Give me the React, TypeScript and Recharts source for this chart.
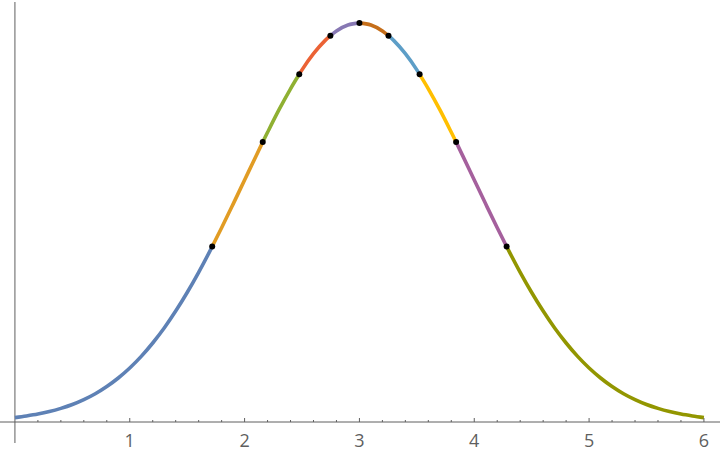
import { ComposedChart, Line, Scatter, XAxis, YAxis, ReferenceLine } from 'recharts';

// curve samples (x step 0.1)
const curveX = [
  0, 0.1, 0.2, 0.3, 0.4, 0.5, 0.6, 0.7, 0.8, 0.9, 1, 1.1, 1.2, 1.3, 1.4, 1.5, 1.6, 1.7, 1.8, 1.9,
  2, 2.1, 2.2, 2.3, 2.4, 2.5, 2.6, 2.7, 2.8, 2.9, 3, 3.1, 3.2, 3.3, 3.4, 3.5, 3.6, 3.7, 3.8, 3.9,
  4, 4.1, 4.2, 4.3, 4.4, 4.5, 4.6, 4.7, 4.8, 4.9, 5, 5.1, 5.2, 5.3, 5.4, 5.5, 5.6, 5.7, 5.8, 5.9, 6,
];
const curveY = [
  0.0044, 0.006, 0.0079, 0.0104, 0.0136, 0.0175, 0.0224, 0.0283, 0.0355, 0.044, 0.054, 0.0656, 0.079,
  0.094, 0.1109, 0.1295, 0.1497, 0.1714, 0.1942, 0.2179, 0.242, 0.2661, 0.2897, 0.3123, 0.3332, 0.3521,
  0.3683, 0.3814, 0.391, 0.397, 0.3989, 0.397, 0.391, 0.3814, 0.3683, 0.3521, 0.3332, 0.3123, 0.2897,
  0.2661, 0.242, 0.2179, 0.1942, 0.1714, 0.1497, 0.1295, 0.1109, 0.094, 0.079, 0.0656, 0.054, 0.044,
  0.0355, 0.0283, 0.0224, 0.0175, 0.0136, 0.0104, 0.0079, 0.006, 0.0044,
];

// marked points along the curve
const markX = [1.718, 2.158, 2.476, 2.747, 3, 3.253, 3.524, 3.842, 4.282];
const markY = [0.1755, 0.28, 0.3477, 0.3863, 0.3989, 0.3863, 0.3477, 0.28, 0.1755];

const segmentColors = [
  '#5e81b5', '#e19c24', '#8fb032', '#eb6235', '#8778b3',
  '#c56e1a', '#5d9ec7', '#ffbf00', '#a5609d', '#929600',
];

const xTicks = [
  0, 0.2, 0.4, 0.6, 0.8, 1, 1.2, 1.4, 1.6, 1.8, 2, 2.2, 2.4, 2.6, 2.8, 3, 3.2, 3.4, 3.6, 3.8,
  4, 4.2, 4.4, 4.6, 4.8, 5, 5.2, 5.4, 5.6, 5.8, 6,
];

const axisColor = '#5f5f5f';

const points = [
  ...curveX.map((x, i) => ({ x, y: curveY[i] })),
  ...markX.map((x, i) => ({ x, y: markY[i] })),
].sort((a, b) => a.x - b.x);

const marks = markX.map((x, i) => ({ x, y: markY[i] }));

const segments = segmentColors.map((color, i) => {
  const lo = i === 0 ? 0 : markX[i - 1];
  const hi = i === segmentColors.length - 1 ? 6 : markX[i];
  return { color, data: points.filter((p) => p.x >= lo - 1e-9 && p.x <= hi + 1e-9) };
});

function Tick(props: any) {
  const { x, y, payload } = props;
  const v = payload.value;
  const major = Math.abs(v - Math.round(v)) < 1e-6;
  if (v === 0) {
    return <line x1={x} y1={y} x2={x} y2={y + 21} stroke={axisColor} strokeWidth={1} />;
  }
  return (
    <g>
      <line x1={x} y1={y} x2={x} y2={y - (major ? 4 : 2)} stroke={axisColor} strokeWidth={1} />
      {major && (
        <text x={x} y={y + 25} textAnchor="middle" fill="#5f5f5f" fontSize={18} fontFamily="Open Sans">
          {v}
        </text>
      )}
    </g>
  );
}

export default function App() {
  return (
    <div style={{ position: 'absolute', left: 0, top: 0, background: '#fff' }}>
      <ComposedChart width={720} height={454} margin={{ top: 2, right: 0, bottom: 0, left: 0 }}>
        <XAxis
          type="number"
          dataKey="x"
          domain={[-0.13, 6.14]}
          ticks={xTicks}
          interval={0}
          allowDataOverflow
          height={32}
          tickSize={0}
          tickMargin={0}
          tickLine={false}
          axisLine={{ stroke: axisColor, strokeWidth: 1 }}
          tick={<Tick />}
        />
        <YAxis type="number" dataKey="y" domain={[0, 0.42]} hide allowDataOverflow />
        <ReferenceLine x={0} stroke={axisColor} strokeWidth={1} />
        {segments.map((s, i) => (
          <Line
            key={i}
            data={s.data}
            dataKey="y"
            type="monotone"
            stroke={s.color}
            strokeWidth={3.6}
            dot={false}
            activeDot={false}
            isAnimationActive={false}
          />
        ))}
        <Scatter
          data={marks}
          dataKey="y"
          fill="#000"
          isAnimationActive={false}
          shape={(p: any) => <circle cx={p.cx} cy={p.cy} r={3} fill="#000" />}
        />
      </ComposedChart>
    </div>
  );
}
